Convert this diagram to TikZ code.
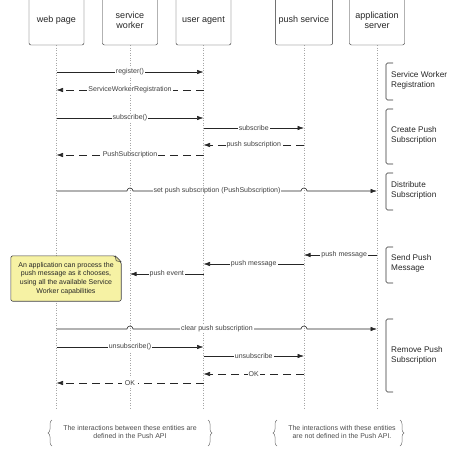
\documentclass[tikz,border=0pt]{standalone}
\usepackage{fontspec}
\setmainfont{Liberation Sans}
\usetikzlibrary{arrows.meta,positioning,backgrounds,decorations.pathreplacing}
\definecolor{notefill}{HTML}{F6F2A4}
\definecolor{notefold}{HTML}{DDD890}

\begin{document}
\begin{tikzpicture}[x=1pt,y=-1pt,
    head/.style={draw=black!85,fill=white,rounded corners=2pt,minimum width=55pt,minimum height=49pt,align=center,font=\fontsize{9}{10.5}\selectfont,text=black!85},
    life/.style={black!35,dotted,line width=0.5pt},
    msg/.style={-{Latex[length=6.5pt,width=4.5pt]},line width=0.6pt,black!85},
    ret/.style={msg,dash pattern=on 8pt off 5pt},
    lbl/.style={fill=white,inner sep=1pt,font=\fontsize{7}{8}\selectfont,text=black!75},
    phase/.style={anchor=west,align=left,inner sep=0pt,font=\fontsize{8.2}{10}\selectfont,text=black!85},
    brk/.style={black!80,line width=0.6pt,rounded corners=1.5pt},
    notebox/.style={draw=black!75,fill=notefill,line width=0.6pt,rounded corners=2pt},
    notetext/.style={minimum width=110pt,minimum height=45pt,inner sep=1pt,align=center,font=\fontsize{7}{8.7}\selectfont,text=black!85},
    brc/.style={black!55,line width=0.5pt,decorate,decoration={brace,amplitude=4pt}},
    remark/.style={align=center,font=\fontsize{7}{8}\selectfont,text=black!70}]
    \useasboundingbox (0,0) rectangle (474,448);
    \clip (0,0) rectangle (474,448);

    \node[head] (page) at (56.5,20.5) {web page};
    \node[head] (worker) at (130,20.5) {service\\worker};
    \node[head] (agent) at (203.5,20.5) {user agent};
    \node[head] (push) at (304,20.5) {push service};
    \node[head] (server) at (377,20.5) {application\\server};
    \coordinate (bottom) at (0,408);

    \begin{scope}[on background layer]
        \draw[life] (page.south) -- (page.south |- bottom);
        \draw[life] (worker.south) -- (worker.south |- bottom);
        \draw[life] (agent.south) -- (agent.south |- bottom);
        \draw[life] (push.south) -- (push.south |- bottom);
        \draw[life] (server.south) -- (server.south |- bottom);
    \end{scope}

    \draw[msg] (page |- 0,72) -- node[lbl] {register()} (agent |- 0,72);
    \draw[ret] (agent |- 0,90) -- node[lbl] {ServiceWorkerRegistration} (page |- 0,90);
    \draw[msg] (page |- 0,118) -- node[lbl] {subscribe()} (agent |- 0,118);
    \draw[msg] (agent |- 0,128) -- node[lbl] {subscribe} (push |- 0,128);
    \draw[ret] (push |- 0,145) -- node[lbl] {push subscription} (agent |- 0,145);
    \draw[ret] (agent |- 0,155) -- node[lbl] {PushSubscription} (page |- 0,155);
    \draw[msg] (page |- 0,191) -- (127,191) arc[start angle=180,end angle=0,radius=3pt]
        -- node[lbl] {set push subscription (PushSubscription)} (301,191)
        arc[start angle=180,end angle=0,radius=3pt] -- (server |- 0,191);

    \draw[msg] (server |- 0,255) -- node[lbl,pos=0.45] {push message} (push |- 0,255);
    \draw[msg] (push |- 0,264) -- node[lbl] {push message} (agent |- 0,264);
    \draw[msg] (agent |- 0,274) -- node[lbl] {push event} (worker |- 0,274);

    \node[notetext] (note) at (66,278.5) {An application can process the\\push message as it chooses,\\using all the available Service\\Worker capabilities};
    \begin{scope}[on background layer]
        \draw[notebox] (note.south west) -- (note.north west) -- ([xshift=-6pt]note.north east)
            -- ([yshift=-6pt]note.north east) -- (note.south east) -- cycle;
    \end{scope}
    \draw[black!75,fill=notefold,line width=0.5pt] ([xshift=-6pt]note.north east) -- ([xshift=-5pt,yshift=-5pt]note.north east) -- ([yshift=-6pt]note.north east) -- cycle;

    \draw[msg] (page |- 0,329) -- (127,329) arc[start angle=180,end angle=0,radius=3pt]
        -- node[lbl] {clear push subscription} (301,329)
        arc[start angle=180,end angle=0,radius=3pt] -- (server |- 0,329);
    \draw[msg] (page |- 0,347) -- node[lbl] {unsubscribe()} (agent |- 0,347);
    \draw[msg] (agent |- 0,356) -- node[lbl] {unsubscribe} (push |- 0,356);
    \draw[ret] (push |- 0,374) -- node[lbl] {OK} (agent |- 0,374);
    \draw[ret] (agent |- 0,383) -- node[lbl,inner sep=3pt] {OK} (page |- 0,383);

    \node[phase] (reg) at (391,80) {Service Worker\\Registration};
    \draw[brk] (393,63) -| (386,100) -- (393,100);
    \node[phase] (create) at (391,135) {Create Push\\Subscription};
    \draw[brk] (393,109) -| (386,164) -- (393,164);
    \node[phase] (distribute) at (391,190) {Distribute\\Subscription};
    \draw[brk] (393,173) -| (386,210) -- (393,210);
    \node[phase] (send) at (391,263) {Send Push\\Message};
    \draw[brk] (393,247) -| (386,283) -- (393,283);
    \node[phase] (remove) at (391,355.5) {Remove Push\\Subscription};
    \draw[brk] (393,319) -| (386,392) -- (393,392);

    \node[remark] (api) at (130,432) {The interactions between these entities are\\defined in the Push API};
    \draw[brc] (52,446) -- (52,420);
    \draw[brc] (208,420) -- (208,446);
    \node[remark] (nonapi) at (342,432) {The interactions with these entities\\are not defined in the Push API.};
    \draw[brc] (277,446) -- (277,420);
    \draw[brc] (400,420) -- (400,446);
\end{tikzpicture}
\end{document}
